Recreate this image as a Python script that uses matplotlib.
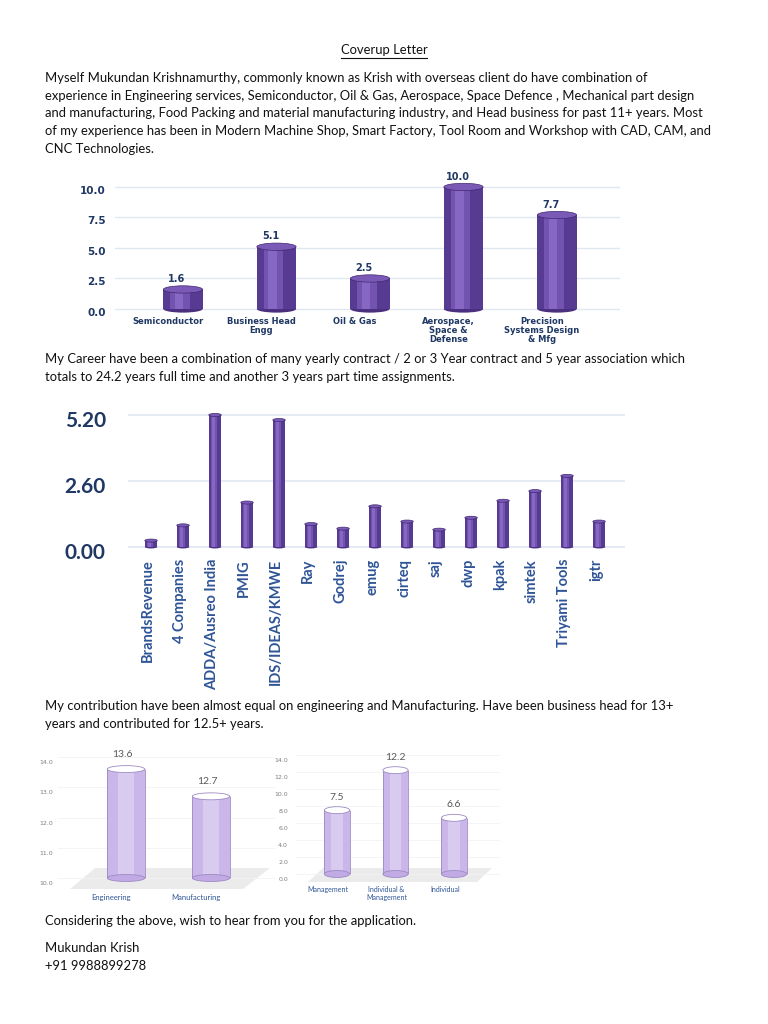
import matplotlib.pyplot as plt
import numpy as np
from matplotlib.patches import Ellipse, Polygon
from matplotlib.lines import Line2D
from matplotlib.transforms import ScaledTranslation

W, H = 768, 1024
BODY = "Lato"

# letter text
title = "Coverup Letter"
para1 = [
    "Myself Mukundan Krishnamurthy, commonly known as Krish with overseas client do have combination of",
    "experience in Engineering services, Semiconductor, Oil & Gas, Aerospace, Space Defence , Mechanical part design",
    "and manufacturing, Food Packing and material manufacturing industry, and Head business for past 11+ years. Most",
    "of my experience has been in Modern Machine Shop, Smart Factory, Tool Room and Workshop with CAD, CAM, and",
    "CNC Technologies.",
]
para2 = [
    "My Career have been a combination of many yearly contract / 2 or 3 Year contract and 5 year association which",
    "totals to 24.2 years full time and another 3 years part time assignments.",
]
para3 = [
    "My contribution have been almost equal on engineering and Manufacturing. Have been business head for 13+",
    "years and contributed for 12.5+ years.",
]
closing = "Considering the above, wish to hear from you for the application."
signature = ["Mukundan Krish", "+91 9988899278"]

# chart data
industries = ["Semiconductor", "Business Head\nEngg", "Oil & Gas",
              "Aerospace,\nSpace &\nDefense", "Precision\nSystems Design\n& Mfg"]
industry_years = [1.6, 5.1, 2.5, 10.0, 7.7]
industry_ticks = [0, 2.5, 5, 7.5, 10]

companies = ["BrandsRevenue", "4 Companies", "ADDA/Ausreo India", "PMIG", "IDS/IDEAS/KMWE",
             "Ray", "Godrej", "emug", "cirteq", "saj", "dwp", "kpak", "simtek",
             "Triyami Tools", "igtr"]
company_years = [0.25, 0.85, 5.2, 1.75, 5.0, 0.9, 0.72, 1.6, 1.0, 0.68, 1.15, 1.82, 2.2, 2.8, 1.0]
company_ticks = [0, 2.6, 5.2]

roles = ["Engineering", "Manufacturing"]
role_years = [13.6, 12.7]
role_ticks = [10, 11, 12, 13, 14]

levels = ["Management", "Individual &\nManagement", "Individual"]
level_years = [7.5, 12.2, 6.6]
level_ticks = [0, 2, 4, 6, 8, 10, 12, 14]

fig = plt.figure(figsize=(W / 100, H / 100), dpi=100)
fig.patch.set_facecolor("white")


def px_axes(box):
    x0, y0, x1, y1 = box
    ax = fig.add_axes([x0 / W, 1 - y1 / H, (x1 - x0) / W, (y1 - y0) / H])
    ax.patch.set_alpha(0)
    for s in ax.spines.values():
        s.set_visible(False)
    ax.tick_params(length=0)
    return ax


def put(y, s, x=45, **kw):
    kw.setdefault("fontsize", 9.4)
    kw.setdefault("family", BODY)
    kw.setdefault("color", "#111111")
    return fig.text(x / W, 1 - y / H, s, va="center", **kw)


def shift(labels, dx=0, dy=0):
    off = ScaledTranslation(dx / 100, -dy / 100, fig.dpi_scale_trans)
    for lab in labels:
        lab.set_transform(lab.get_transform() + off)


def floor(ax, box, pts):
    x0, y0, x1, y1 = box
    frac = [((px - x0) / (x1 - x0), (y1 - py) / (y1 - y0)) for px, py in pts]
    ax.add_patch(Polygon(frac, closed=True, transform=ax.transAxes,
                         fc="#ebebeb", ec="none", zorder=0.5))


def solid_cylinders(ax, vals, width, cap):
    x = np.arange(len(vals))
    v = np.array(vals)
    ax.bar(x, v, width, color="#573a92", lw=0, zorder=2)
    ax.bar(x - width * 0.08, v, width * 0.5, color="#7253b0", lw=0, zorder=2.1)
    ax.bar(x - width * 0.1, v, width * 0.22, color="#8767c4", lw=0, zorder=2.2)
    for xi, vi in zip(x, v):
        ax.add_patch(Ellipse((xi, 0), width, cap, fc="#4a307f", ec="none", zorder=1.9))
        ax.add_patch(Ellipse((xi, vi), width, cap, fc="#7a5ab6",
                             ec="#3f2870", lw=0.5, zorder=3))
    return x


def glass_cylinders(ax, vals, width, cap, base):
    x = np.arange(len(vals))
    v = np.array(vals)
    edge = "#9c8ac4"
    ax.bar(x, v - base, width, bottom=base, color="#cbb6ea", lw=0, zorder=2)
    ax.bar(x, v - base, width * 0.45, bottom=base, color="#d9caf0", lw=0, zorder=2.1)
    ax.vlines(x - width / 2, base, v, color=edge, lw=0.6, zorder=2.2)
    ax.vlines(x + width / 2, base, v, color=edge, lw=0.6, zorder=2.2)
    for xi, vi in zip(x, v):
        ax.add_patch(Ellipse((xi, base), width, cap, fc="#c2aae4", ec=edge, lw=0.6, zorder=2.3))
        ax.add_patch(Ellipse((xi, vi), width, cap, fc="white", ec=edge, lw=0.6, zorder=3))
    return x


# ---------- text ----------
t = put(50, title, x=384, ha="center")
fig.canvas.draw()
bb = t.get_window_extent()
fig.add_artist(Line2D([bb.x0 / W, bb.x1 / W], [1 - 57.5 / H] * 2,
                      transform=fig.transFigure, color="#111111", lw=0.8))

for i, line in enumerate(para1):
    put(78 + 17.7 * i, line)
for i, line in enumerate(para2):
    put(359 + 17.7 * i, line)
for i, line in enumerate(para3):
    put(706 + 17.5 * i, line)
put(921, closing)
put(948, signature[0])
put(965.5, signature[1])

navy = "#1f3864"

# ---------- chart 1 : industries ----------
box1 = (115, 170, 620, 318)
ax1 = px_axes(box1)
x1 = solid_cylinders(ax1, industry_years, 0.42, 0.6)
ax1.set_xlim(-0.727, 4.674)
ax1.set_ylim(-0.74, 11.39)
ax1.set_yticks(industry_ticks, [f"{v:.1f}" for v in industry_ticks],
               fontsize=7.5, fontweight="bold", color=navy)
ax1.tick_params(axis="y", pad=6.5)
shift(ax1.get_yticklabels(), dy=3)
ax1.set_xticks(x1, industries, fontsize=6, fontweight="bold", color=navy, linespacing=1.0)
ax1.tick_params(axis="x", pad=0)
shift(ax1.get_xticklabels(), dx=-15, dy=-1)
ax1.yaxis.grid(True, color="#dfe7f1", lw=1)
ax1.set_axisbelow(True)
for xi, v in zip(x1, industry_years):
    ax1.annotate(f"{v:.1f}", (xi, v), xytext=(-4.3, 7.5), textcoords="offset points",
                 ha="center", va="center", fontsize=7, fontweight="bold", color=navy)

# ---------- chart 2 : companies ----------
box2 = (128, 400, 625, 552)
ax2 = px_axes(box2)
x2 = solid_cylinders(ax2, company_years, 0.39, 0.12)
ax2.set_xlim(-0.72, 14.81)
ax2.set_ylim(-0.2, 5.79)
ax2.set_yticks(company_ticks, [f"{v:.2f}" for v in company_ticks],
               fontsize=15, fontweight="bold", color=navy, family=BODY)
ax2.tick_params(axis="y", pad=16)
shift(ax2.get_yticklabels(), dy=4)
ax2.set_xticks(x2, companies, rotation=90, fontsize=10.5, fontweight="bold",
               color="#2f5597", family=BODY)
ax2.tick_params(axis="x", pad=5)
shift(ax2.get_xticklabels(), dx=-3)
ax2.yaxis.grid(True, color="#dfe7f1", lw=1.2)
ax2.set_axisbelow(True)

# ---------- chart 3 : engineering vs manufacturing ----------
box3 = (58, 745, 275, 892)
ax3 = px_axes(box3)
floor(ax3, box3, [(70, 889), (243, 889), (270, 868), (95, 868)])
x3 = glass_cylinders(ax3, role_years, 0.44, 0.23, 10)
ax3.set_xlim(-0.8, 1.753)
ax3.set_ylim(9.537, 14.397)
ax3.set_yticks(role_ticks, [f"{v:.1f}" for v in role_ticks], fontsize=4.5, color="#7f7f7f")
ax3.tick_params(axis="y", pad=3.6)
shift(ax3.get_yticklabels(), dy=5)
ax3.set_xticks(x3, roles, fontsize=5.5, color="#2f5597", family=BODY)
ax3.tick_params(axis="x", pad=1.5)
shift(ax3.get_xticklabels(), dx=-15)
ax3.yaxis.grid(True, color="#f3f3f3", lw=0.6)
ax3.set_axisbelow(True)
for xi, v in zip(x3, role_years):
    ax3.annotate(f"{v:.1f}", (xi, v), xytext=(-2.9, 10.8), textcoords="offset points",
                 ha="center", va="center", fontsize=7.5, color="#595959", family=BODY)

# ---------- chart 4 : management vs individual ----------
box4 = (295, 745, 500, 884)
ax4 = px_axes(box4)
floor(ax4, box4, [(308, 882), (477, 882), (492, 868), (323, 868)])
x4 = glass_cylinders(ax4, level_years, 0.43, 0.82, 0)
ax4.set_xlim(-0.718, 2.786)
ax4.set_ylim(-1.175, 15.16)
ax4.set_yticks(level_ticks, [f"{v:.1f}" for v in level_ticks], fontsize=4.5, color="#7f7f7f")
ax4.tick_params(axis="y", pad=5)
shift(ax4.get_yticklabels(), dy=5)
ax4.set_xticks(x4, levels, fontsize=5, color="#2f5597", family=BODY, linespacing=1.1)
ax4.tick_params(axis="x", pad=1.5)
shift(ax4.get_xticklabels(), dx=-9)
ax4.yaxis.grid(True, color="#f3f3f3", lw=0.6)
ax4.set_axisbelow(True)
for xi, v in zip(x4, level_years):
    ax4.annotate(f"{v:.1f}", (xi, v), xytext=(0, 9.4), textcoords="offset points",
                 ha="center", va="center", fontsize=7.5, color="#595959", family=BODY)

fig.savefig("out.png", dpi=100, facecolor="white")
